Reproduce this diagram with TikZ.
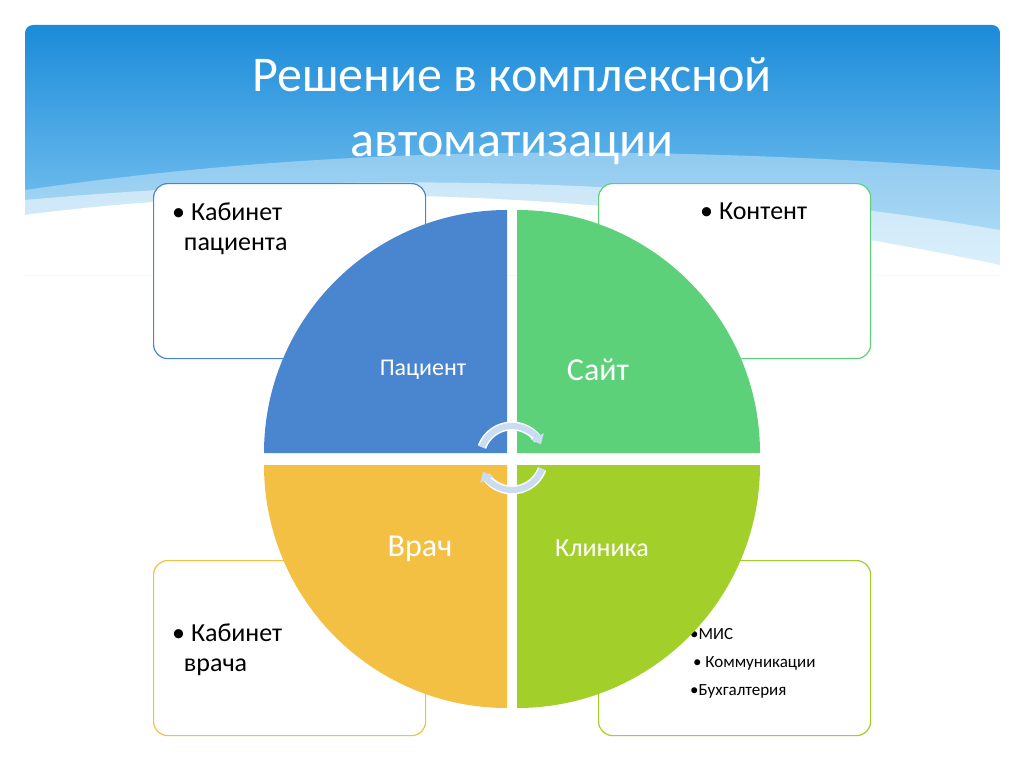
\documentclass[tikz,border=0pt]{standalone}
\usepackage{fontspec}
\setmainfont{Carlito}
\usetikzlibrary{arrows.meta}
\begin{document}
\begin{tikzpicture}[x=1pt,y=-1pt,
  box/.style={draw,line width=1.2pt,rounded corners=14pt,fill=white},
  boxtxt/.style={anchor=north west,align=left,font=\fontsize{26}{30}\selectfont,text=black,inner sep=0},
  qlab/.style={text=white,inner sep=0},
  cyc/.style={line width=9pt,draw=white},
  cycin/.style={line width=6pt,draw=arrowblue,-{Triangle[length=9pt,width=14pt]}}]
\definecolor{qblue}{HTML}{4A86D0}
\definecolor{qgreen}{HTML}{5DD07A}
\definecolor{qyellow}{HTML}{F4C043}
\definecolor{qlime}{HTML}{A3CF2A}
\definecolor{skytop}{HTML}{1B8BD9}
\definecolor{skybot}{HTML}{8FD0F5}
\definecolor{arrowblue}{HTML}{C9DCF2}
\useasboundingbox (0,0) rectangle (1024,768);
\fill[white] (0,0) rectangle (1024,768);
% sky band
\begin{scope}
\clip (25,33) [rounded corners=8pt] -- (25,25) -- (1000,25) [sharp corners] -- (1000,275) -- (25,275) -- cycle;
\shade[top color=skytop,bottom color=skybot] (25,25) rectangle (1000,275);
\fill[white,opacity=0.35] (25,190) .. controls (300,150) and (600,140) .. (1000,170) -- (1000,280) -- (25,280) -- cycle;
\fill[white,opacity=0.5] (25,200) .. controls (300,175) and (650,170) .. (1000,230) -- (1000,280) -- (25,280) -- cycle;
\fill[white] (25,215) .. controls (250,185) and (600,180) .. (1000,265) -- (1000,280) -- (25,280) -- cycle;
\end{scope}
\coordinate (c) at (512,458);
\node[text=white,align=center,font=\fontsize{50}{65}\selectfont] (title) at (512,111) {Решение в комплексной\\автоматизации};
% boxes
\node[box,draw=qblue,minimum width=272pt,minimum height=175pt,anchor=north west] (b1) at (153,183) {};
\node[box,draw=qgreen,minimum width=272pt,minimum height=175pt,anchor=north west] (b2) at (598,183) {};
\node[box,draw=qyellow,minimum width=272pt,minimum height=175pt,anchor=north west] (b3) at (153,560) {};
\node[box,draw=qlime,minimum width=272pt,minimum height=175pt,anchor=north west] (b4) at (598,560) {};
\node[boxtxt] (t1) at (172,203) {• Кабинет\\\ \ пациента};
\node[boxtxt] (t2) at (700,203) {• Контент};
\node[boxtxt] (t3) at (172,624) {• Кабинет\\\ \ врача};
\node[boxtxt,font=\fontsize{17}{28}\selectfont] (t4) at (690,628) {•МИС\\\,• Коммуникации\\•Бухгалтерия};
% quadrants
\fill[qblue] (507,453) -- ++(-243,0) arc[start angle=180,end angle=270,radius=243] -- cycle;
\fill[qgreen] (517,453) -- ++(0,-243) arc[start angle=270,end angle=360,radius=243] -- cycle;
\fill[qyellow] (507,465) -- ++(-243,0) arc[start angle=180,end angle=90,radius=243] -- cycle;
\fill[qlime] (517,465) -- ++(0,243) arc[start angle=90,end angle=0,radius=243] -- cycle;
\node[qlab,font=\fontsize{24}{28}\selectfont] (l1) at (423,370) {Пациент};
\node[qlab,font=\fontsize{32}{36}\selectfont] (l2) at (598,370) {Сайт};
\node[qlab,font=\fontsize{32}{36}\selectfont] (l3) at (420,549) {Врач};
\node[qlab,font=\fontsize{26}{30}\selectfont] (l4) at (602,548) {Клиника};
% cycle arrows
\draw[cyc] ([shift={(200:32)}]c) arc[start angle=200,end angle=325,radius=32];
\draw[cycin] ([shift={(200:32)}]c) arc[start angle=200,end angle=335,radius=32];
\draw[cyc] ([shift={(20:32)}]c) arc[start angle=20,end angle=145,radius=32];
\draw[cycin] ([shift={(20:32)}]c) arc[start angle=20,end angle=155,radius=32];
\end{tikzpicture}
\end{document}
